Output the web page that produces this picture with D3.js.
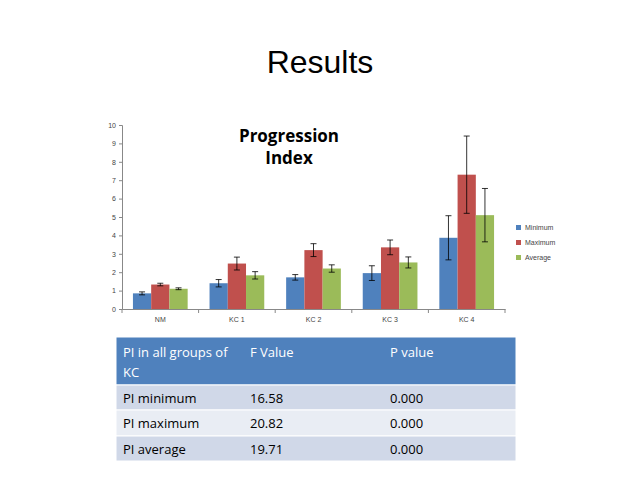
<!DOCTYPE html>
<html><head><meta charset="utf-8">
<script src="https://cdn.jsdelivr.net/npm/d3@7"></script>
<style>body{margin:0;background:#fff}</style>
</head><body><svg id="c" width="638" height="479"></svg>
<script>
const groups = ['NM', 'KC 1', 'KC 2', 'KC 3', 'KC 4'];
const seriesNames = ['Minimum', 'Maximum', 'Average'];
const minimum = [0.85, 1.4, 1.72, 1.95, 3.87];
const maximum = [1.33, 2.47, 3.2, 3.35, 7.3];
const average = [1.1, 1.83, 2.2, 2.53, 5.1];
const errMin = [0.08, 0.2, 0.15, 0.4, 1.2];
const errMax = [0.07, 0.35, 0.35, 0.4, 2.1];
const errAvg = [0.05, 0.2, 0.2, 0.3, 1.45];
const colors = ['#4f81bd', '#c0504d', '#9bbb59'];
const tableRows = [
  ['PI in all groups of KC', 'F Value', 'P value'],
  ['PI minimum', '16.58', '0.000'],
  ['PI maximum', '20.82', '0.000'],
  ['PI average', '19.71', '0.000']
];

const svg = d3.select('#c');
svg.append('text').attr('x', 320).attr('y', 73).attr('text-anchor', 'middle')
  .attr('font-family', 'Liberation Sans, Arial').attr('font-size', 32).text('Results');

const x = d3.scaleBand().domain(groups).range([122, 505]);
const xs = d3.scaleBand().domain(seriesNames).range([0, x.bandwidth()]).paddingOuter(0.6);
const y = d3.scaleLinear().domain([0, 10]).range([309, 125]);
const vals = [minimum, maximum, average], errs = [errMin, errMax, errAvg];

const yAx = svg.append('g').attr('transform', 'translate(122,0)')
  .call(d3.axisLeft(y).ticks(10).tickSize(3));
const xAx = svg.append('g').attr('transform', 'translate(0,309)')
  .call(d3.axisBottom(x).tickSize(0).tickPadding(8));
// category separator ticks
svg.append('g').selectAll('line').data(groups.concat([null])).join('line')
  .attr('x1', (d, i) => 122 + i * x.step()).attr('x2', (d, i) => 122 + i * x.step())
  .attr('y1', 309).attr('y2', 313).attr('stroke', '#888');
[yAx, xAx].forEach(a => {
  a.selectAll('path,line').attr('stroke', '#888');
  a.selectAll('text').attr('font-family', 'Liberation Sans, Arial').attr('font-size', 7).attr('fill', '#444');
});

seriesNames.forEach((s, si) => {
  const g = svg.append('g');
  g.selectAll('rect').data(groups).join('rect')
    .attr('x', d => x(d) + xs(s)).attr('width', xs.bandwidth())
    .attr('y', (d, i) => y(vals[si][i])).attr('height', (d, i) => y(0) - y(vals[si][i]))
    .attr('fill', colors[si]);
  groups.forEach((d, i) => {
    const cx = x(d) + xs(s) + xs.bandwidth() / 2;
    const lo = y(vals[si][i] - errs[si][i]), hi = y(vals[si][i] + errs[si][i]);
    g.append('line').attr('x1', cx).attr('x2', cx).attr('y1', lo).attr('y2', hi).attr('stroke', '#000').attr('stroke-width', 0.8);
    [lo, hi].forEach(v => g.append('line').attr('x1', cx - 3).attr('x2', cx + 3).attr('y1', v).attr('y2', v).attr('stroke', '#000').attr('stroke-width', 0.8));
  });
});

svg.append('text').attr('text-anchor', 'middle').attr('font-family', 'Open Sans, Liberation Sans')
  .attr('font-weight', 'bold').attr('font-size', 17)
  .selectAll('tspan').data(['Progression', 'Index']).join('tspan')
  .attr('x', 289).attr('y', (d, i) => 142 + i * 22).text(d => d);

const leg = svg.append('g').selectAll('g').data(seriesNames).join('g')
  .attr('transform', (d, i) => `translate(516,${225 + i * 15})`);
leg.append('rect').attr('width', 5).attr('height', 5).attr('fill', (d, i) => colors[i]);
leg.append('text').attr('x', 9).attr('y', 5).attr('font-family', 'Liberation Sans, Arial')
  .attr('font-size', 7).attr('fill', '#444').text(d => d);

// table
const colX = [116, 243, 383, 516];
const rowY = [337, 385, 410, 436, 461];
const rowFill = ['#4f81bd', '#d0d8e8', '#e9edf4', '#d0d8e8'];
tableRows.forEach((r, ri) => {
  svg.append('rect').attr('x', 116).attr('y', rowY[ri]).attr('width', 400)
    .attr('height', rowY[ri + 1] - rowY[ri]).attr('fill', rowFill[ri])
    .attr('stroke', '#fff').attr('stroke-width', 1);
  r.forEach((c, ci) => {
    const t = svg.append('text').attr('font-family', 'Open Sans, Liberation Sans').attr('font-size', 13)
      .attr('fill', ri === 0 ? '#fff' : '#000');
    const lines = (ri === 0 && ci === 0) ? ['PI in all groups of', 'KC'] : [c];
    lines.forEach((l, li) => t.append('tspan').attr('x', colX[ci] + 7)
      .attr('y', rowY[ri] + (ri === 0 ? 20 + li * 20 : 18)).text(l));
  });
});
</script></body></html>
